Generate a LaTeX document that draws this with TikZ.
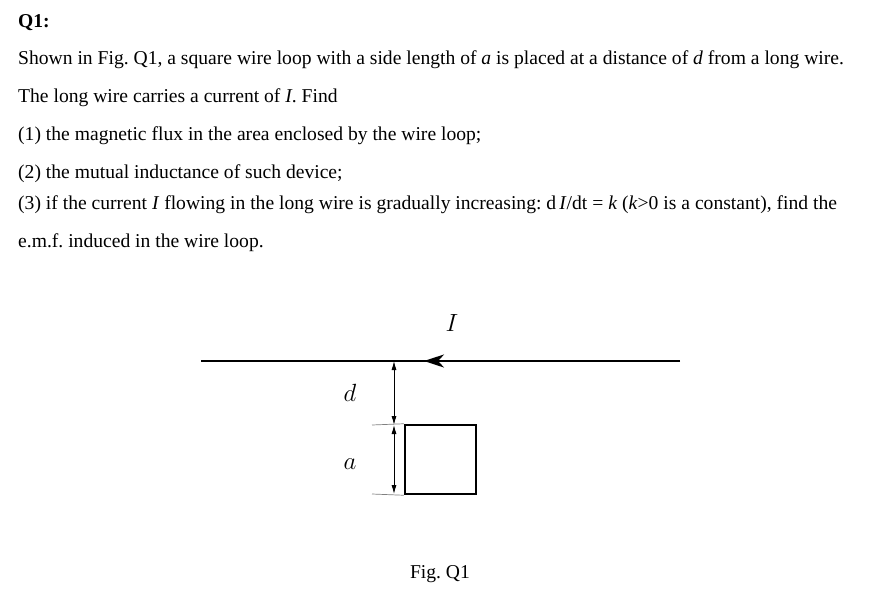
\documentclass[tikz,border=0pt]{standalone}
\usepackage{fontspec}
\setmainfont{Liberation Serif}
\usetikzlibrary{arrows.meta}
\frenchspacing
\begin{document}
\begin{tikzpicture}[x=1pt,y=-1pt,
  txt/.style={anchor=base west,inner sep=0pt,font=\fontsize{19.6}{22}\selectfont},
  lbl/.style={inner sep=0pt,font=\fontsize{23}{25}\selectfont},
  dim/.style={line width=0.8pt,{Latex[length=9pt,width=5pt]}-{Latex[length=9pt,width=5pt]}},
  ext/.style={line width=0.7pt,gray}]
\useasboundingbox (0,0) rectangle (871,590);
\node[txt,font=\bfseries\fontsize{19.6}{22}\selectfont] (q) at (18,27) {Q1:};
\node[txt] (l1) at (18,64) {Shown in Fig. Q1, a square wire loop with a side length of \textit{a} is placed at a distance of \textit{d} from a long wire.};
\node[txt] (l2) at (18,102) {The long wire carries a current of \textit{I}. Find};
\node[txt] (l3) at (18,140) {(1) the magnetic flux in the area enclosed by the wire loop;};
\node[txt] (l4) at (18,178) {(2) the mutual inductance of such device;};
\node[txt] (l5) at (18,209) {(3) if the current \textit{I} flowing in the long wire is gradually increasing: d\,\textit{I}/dt = \textit{k} (\textit{k}>0 is a constant), find the};
\node[txt] (l6) at (18,247) {e.m.f. induced in the wire loop.};
% wire
\coordinate (wl) at (201,361);
\coordinate (wr) at (680,361);
\coordinate (wm) at (424,361);
\draw[line width=2.6pt] (wl) -- (wr);
\draw[line width=2.6pt,-{Stealth[length=20pt,width=13pt,inset=6pt]}] (wr) -- (wm);
\node[lbl] (I) at (452,323) {$I$};
% loop
\node[draw,line width=2.5pt,minimum width=71pt,minimum height=69pt,inner sep=0pt] (sq) at (440.5,459.5) {};
\coordinate (dt) at (394,361);
\coordinate (dm) at (394,425);
\coordinate (db) at (394,494);
\coordinate (e1) at (372,425);
\coordinate (e2) at (372,494);
\draw[ext] (e1) -- (sq.north west);
\draw[ext] (e2) -- (sq.south west);
\draw[dim] (dt) -- (dm);
\draw[dim] (dm) -- (db);
\node[lbl] (d) at (350,393) {$d$};
\node[lbl] (a) at (350,464) {$a$};
\node[txt,anchor=base] (fig) at (440,578) {Fig. Q1};
\end{tikzpicture}
\end{document}
